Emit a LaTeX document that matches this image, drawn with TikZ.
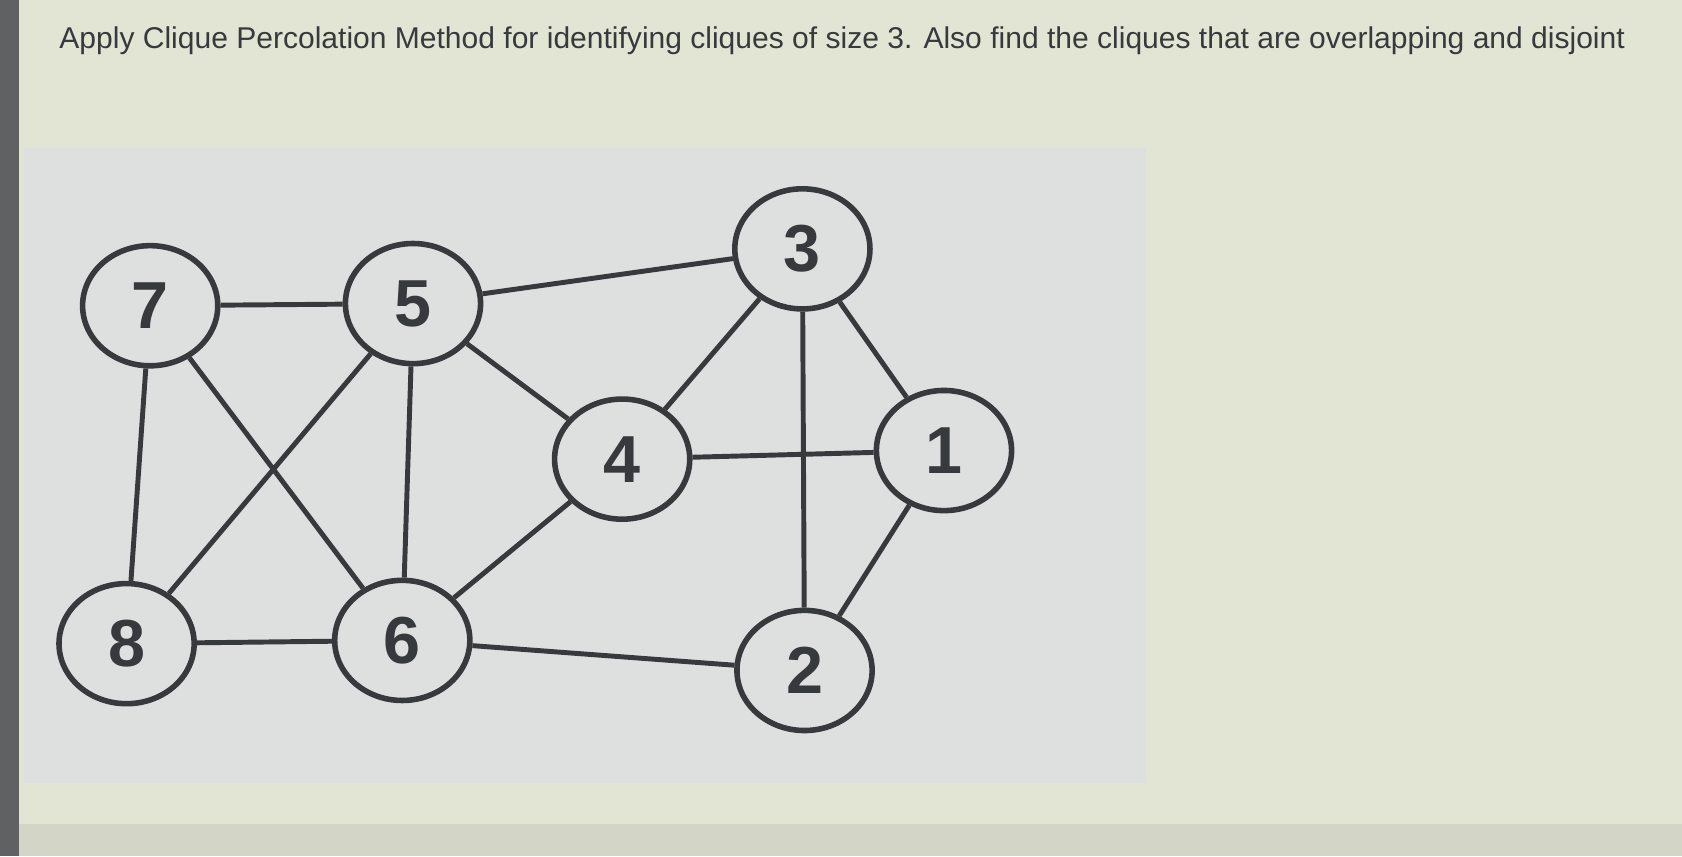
\documentclass[tikz,border=0pt]{standalone}
\usepackage{fontspec}
\setmainfont{Liberation Sans}
\usetikzlibrary{shapes.geometric}
\definecolor{page}{RGB}{226,228,212}
\definecolor{panel}{RGB}{222,224,224}
\definecolor{ink}{RGB}{55,58,60}
\begin{document}
\begin{tikzpicture}[x=0.5pt,y=-0.5pt,
  vert/.style={ellipse,draw=ink,line width=2.6pt,fill=panel,minimum width=63pt,minimum height=56pt,inner sep=0pt,font=\fontsize{31}{33}\selectfont\bfseries,text=ink},
  edge/.style={draw=ink,line width=2.3pt}]
\useasboundingbox (0,0) rectangle (1568,798);
\fill[page] (0,0) rectangle (1568,798);
\fill[ink!80] (0,0) rectangle (18,798);
\fill[panel] (22,138) rectangle (1068,730);
\fill[page!85!gray] (18,768) rectangle (1568,798);
\node[anchor=west,inner sep=0pt,text=ink,font=\fontsize{14}{16}\selectfont] (title) at (55,38) {Apply Clique Percolation Method for identifying cliques of size 3. Also find the cliques that are overlapping and disjoint};
\node[vert] (n7) at (140,285) {7};
\node[vert] (n5) at (385,283) {5};
\node[vert] (n3) at (748,232) {3};
\node[vert] (n4) at (580,428) {4};
\node[vert] (n1) at (880,420) {1};
\node[vert] (n8) at (118,600) {8};
\node[vert] (n6) at (375,597) {6};
\node[vert] (n2) at (750,625) {2};
\path[edge] (n7)--(n5) (n7)--(n8) (n7)--(n6) (n5)--(n8) (n5)--(n6) (n5)--(n4) (n5)--(n3)
 (n3)--(n4) (n3)--(n1) (n3)--(n2) (n4)--(n1) (n4)--(n6) (n1)--(n2) (n8)--(n6) (n6)--(n2);
\end{tikzpicture}
\end{document}
